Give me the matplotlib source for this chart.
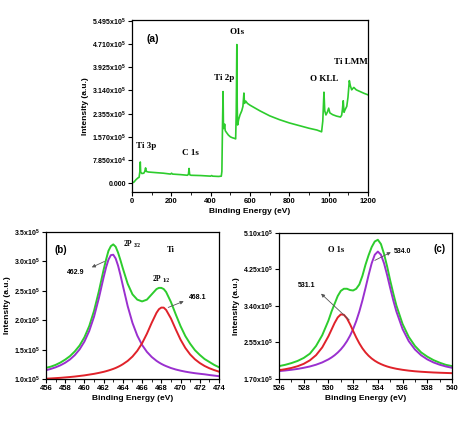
import matplotlib
matplotlib.use("Agg")
import matplotlib.pyplot as plt
from matplotlib.ticker import MultipleLocator

plt.rcParams["font.family"] = ["Liberation Sans", "DejaVu Sans"]
plt.rcParams["font.weight"] = "bold"
plt.rcParams["mathtext.default"] = "regular"

GREEN = "#2dcc2d"
PURPLE = "#9a30cf"
RED = "#e0222a"

# ---- (a) survey spectrum: binding energy (eV), intensity (x1e5)
survey_be = [0, 10, 20, 30, 36, 40, 42, 44, 50, 60, 65, 69, 73, 83, 120, 160, 196,
             201, 206, 250, 282, 287, 290, 293, 300, 350, 400, 405, 410, 440, 454,
             457, 460, 463, 465, 468, 471, 474, 480, 490, 500, 510, 520, 527, 530,
             533, 535, 537, 542, 549, 558, 564, 569, 572, 578, 587, 600, 650, 700,
             750, 800, 850, 900, 940, 964, 970, 976, 980, 986, 993, 1000, 1006, 1020,
             1040, 1060, 1066, 1070, 1074, 1078, 1083, 1092, 1098, 1105, 1110, 1117,
             1122, 1128, 1140, 1160, 1180, 1200]
survey_int = [0.01, 0.04, 0.12, 0.18, 0.20, 0.40, 0.72, 0.38, 0.33, 0.34, 0.40, 0.52,
              0.40, 0.38, 0.36, 0.34, 0.31, 0.34, 0.31, 0.29, 0.27, 0.31, 0.50, 0.29,
              0.27, 0.26, 0.24, 0.26, 0.24, 0.23, 0.24, 0.40, 1.90, 3.10, 1.85, 1.86,
              2.00, 1.78, 1.72, 1.63, 1.57, 1.54, 1.52, 1.50, 2.40, 4.69, 2.60, 1.97,
              2.15, 2.31, 2.45, 2.60, 3.05, 2.70, 2.78, 2.70, 2.64, 2.45, 2.28, 2.15,
              2.04, 1.95, 1.86, 1.80, 1.74, 2.10, 3.08, 2.45, 2.31, 2.40, 2.54, 2.38,
              2.32, 2.27, 2.24, 2.30, 2.50, 2.79, 2.40, 2.48, 2.60, 2.90, 3.47, 3.30,
              3.16, 3.20, 3.24, 3.16, 3.10, 3.04, 2.99]
survey_yticks = [0.0, 0.785, 1.570, 2.355, 3.140, 3.925, 4.710, 5.495]
survey_ylabels = ["0.000", "7.850x10$^4$", "1.570x10$^5$", "2.355x10$^5$", "3.140x10$^5$",
                  "3.925x10$^5$", "4.710x10$^5$", "5.495x10$^5$"]

# ---- (b) Ti 2p fit (x1e5)
ti_be = [456, 456.5, 457, 457.5, 458, 458.5, 459, 459.5, 460, 460.5, 461, 461.5, 462,
         462.25, 462.5, 462.75, 463, 463.25, 463.5, 463.75, 464,
         464.5, 465, 465.5, 466, 466.5, 467, 467.5,
         467.75, 468, 468.25,
         468.5, 469, 469.5, 470, 470.5, 471, 471.5, 472, 472.5, 473, 473.5, 474]
ti_envelope = [1.19, 1.21, 1.24, 1.28, 1.33, 1.39, 1.47, 1.57, 1.71, 1.90, 2.16, 2.49, 2.86,
               3.03, 3.18, 3.26, 3.29, 3.25, 3.15, 3.02, 2.88,
               2.62, 2.44, 2.35, 2.32, 2.35, 2.44, 2.53,
               2.55, 2.55, 2.53,
               2.48, 2.31, 2.10, 1.90, 1.73, 1.60, 1.49, 1.41, 1.34, 1.29, 1.24, 1.20]
ti_2p32 = [1.149, 1.172, 1.199, 1.233, 1.277, 1.333, 1.407, 1.505, 1.637, 1.817, 2.06,
           2.374, 2.732,
           2.898, 3.03, 3.107, 3.114, 3.05, 2.928, 2.767, 2.588,
           2.24, 1.954, 1.738, 1.579, 1.462, 1.375, 1.309,
           1.282, 1.258, 1.237,
           1.219, 1.187, 1.162, 1.142, 1.125, 1.111, 1.099, 1.089, 1.080, 1.068, 1.058, 1.048]
ti_2p12 = [1.005, 1.01, 1.015, 1.02, 1.027, 1.034, 1.042, 1.052, 1.062, 1.075, 1.088,
           1.104, 1.122,
           1.133, 1.145, 1.158, 1.172, 1.188, 1.207, 1.228, 1.252,
           1.308, 1.382, 1.480, 1.608, 1.770, 1.956, 2.126,
           2.187, 2.215, 2.214,
           2.175, 2.030, 1.845, 1.670, 1.528, 1.418, 1.335, 1.272, 1.222, 1.183, 1.152, 1.125]
ti_yticks = [1.0, 1.5, 2.0, 2.5, 3.0, 3.5]
ti_ylabels = ["1.0x10$^5$", "1.5x10$^5$", "2.0x10$^5$", "2.5x10$^5$", "3.0x10$^5$",
              "3.5x10$^5$"]

# ---- (c) O 1s fit (x1e5)
o_be = [526, 526.5, 527, 527.5, 528, 528.5, 529, 529.5, 530,
        530.25, 530.5, 530.75, 531, 531.25, 531.5, 531.75, 532, 532.25, 532.5, 532.75,
        533, 533.25, 533.5, 533.75, 534, 534.25, 534.5, 534.75, 535, 535.25,
        535.5, 536, 536.5, 537, 537.5, 538, 538.5, 539, 539.5, 540]
o_envelope = [2.00, 2.03, 2.07, 2.12, 2.19, 2.29, 2.47, 2.72, 3.06,
              3.27, 3.45, 3.63, 3.75, 3.80, 3.80, 3.77, 3.76, 3.80, 3.90, 4.10,
              4.36, 4.58, 4.77, 4.90, 4.94, 4.84, 4.61, 4.32, 3.99, 3.69,
              3.41, 2.98, 2.68, 2.47, 2.32, 2.22, 2.14, 2.08, 2.03, 2.00]
o_531 = [1.905, 1.928, 1.957, 1.997, 2.053, 2.135, 2.255, 2.436, 2.695,
         2.849, 3.004, 3.132, 3.203, 3.195, 3.110, 2.974, 2.818, 2.666, 2.530, 2.414,
         2.319, 2.241, 2.177, 2.125, 2.082, 2.047, 2.017, 1.992, 1.971, 1.954,
         1.938, 1.914, 1.895, 1.880, 1.869, 1.860, 1.852, 1.846, 1.841, 1.836]
o_534 = [1.884, 1.898, 1.915, 1.935, 1.961, 1.992, 2.033, 2.086, 2.157,
         2.201, 2.253, 2.315, 2.388, 2.476, 2.581, 2.709, 2.863, 3.048, 3.270, 3.528,
         3.817, 4.118, 4.393, 4.592, 4.665, 4.592, 4.393, 4.118, 3.817, 3.528,
         3.270, 2.863, 2.581, 2.388, 2.253, 2.157, 2.086, 2.033, 1.992, 1.961]
o_yticks = [1.70, 2.55, 3.40, 4.25, 5.10]
o_ylabels = ["1.70x10$^5$", "2.55x10$^5$", "3.40x10$^5$", "4.25x10$^5$", "5.10x10$^5$"]

SERIF = ["Liberation Serif", "DejaVu Serif"]


def style(ax, xmajor, xminor, ticks, labels):
    ax.xaxis.set_major_locator(MultipleLocator(xmajor))
    ax.xaxis.set_minor_locator(MultipleLocator(xminor))
    ax.set_yticks(ticks)
    ax.set_yticklabels(labels)
    ax.tick_params(direction="out", length=3, width=0.8, pad=1.5)
    ax.tick_params(axis="x", labelsize=5.5)
    ax.tick_params(axis="y", labelsize=5)
    ax.tick_params(which="minor", direction="out", length=1.8, width=0.6)
    for s in ax.spines.values():
        s.set_linewidth(0.9)
    ax.set_xlabel("Binding Energy (eV)", fontsize=6, fontweight="bold", labelpad=2)
    ax.set_ylabel("Intensity (a.u.)", fontsize=6, fontweight="bold", labelpad=2)


fig = plt.figure(figsize=(4.74, 4.26), dpi=100)

# (a)
ax1 = fig.add_axes([0.2785, 0.549, 0.4979, 0.404])
ax1.plot(survey_be, survey_int, color=GREEN, lw=1.2)
ax1.set_xlim(0, 1200)
ax1.set_ylim(-0.3, 5.52)
style(ax1, 200, 100, survey_yticks, survey_ylabels)
ax1.text(107, 4.89, "(a)", fontsize=7.5, fontweight="bold", ha="center", va="center")
for lbl, x, y in [("O1s", 534, 5.10), ("Ti 2p", 469, 3.57), ("Ti 3p", 70, 1.27),
                  ("C 1s", 297, 1.01), ("O KLL", 977, 3.51), ("Ti LMM", 1113, 4.11)]:
    ax1.text(x, y, lbl, fontsize=6.5, fontweight="bold", family=SERIF,
             ha="center", va="center")

# (b)
ax2 = fig.add_axes([0.097, 0.1103, 0.365, 0.345])
ax2.plot(ti_be, ti_envelope, color=GREEN, lw=1.4)
ax2.plot(ti_be, ti_2p32, color=PURPLE, lw=1.4)
ax2.plot(ti_be, ti_2p12, color=RED, lw=1.4)
ax2.set_xlim(456, 474)
ax2.set_ylim(1.0, 3.5)
style(ax2, 2, 1, ti_yticks, ti_ylabels)
ax2.text(457.5, 3.20, "(b)", fontsize=7, fontweight="bold", ha="center", va="center")
ax2.text(465.0, 3.29, "2P", fontsize=5.5, fontweight="bold", family=SERIF, ha="right", va="center")
ax2.text(465.1, 3.27, "3/2", fontsize=4, fontweight="bold", family=SERIF, ha="left", va="center")
ax2.text(468.0, 2.70, "2P", fontsize=5.5, fontweight="bold", family=SERIF, ha="right", va="center")
ax2.text(468.1, 2.68, "1/2", fontsize=4, fontweight="bold", family=SERIF, ha="left", va="center")
ax2.text(469.0, 3.19, "Ti", fontsize=6, fontweight="bold", family=SERIF, ha="center", va="center")
ax2.text(459.1, 2.815, "462.9", fontsize=5, fontweight="bold", ha="center", va="center")
ax2.text(471.8, 2.39, "468.1", fontsize=5, fontweight="bold", ha="center", va="center")
arrow = dict(arrowstyle="-|>", color="#555555", lw=0.6, mutation_scale=5)
ax2.annotate("", xy=(460.5, 2.88), xytext=(462.35, 3.02), arrowprops=arrow)
ax2.annotate("", xy=(470.6, 2.34), xytext=(468.45, 2.20), arrowprops=arrow)

# (c)
ax3 = fig.add_axes([0.5886, 0.1103, 0.365, 0.343])
ax3.plot(o_be, o_envelope, color=GREEN, lw=1.4)
ax3.plot(o_be, o_534, color=PURPLE, lw=1.4)
ax3.plot(o_be, o_531, color=RED, lw=1.4)
ax3.set_xlim(526, 540)
ax3.set_ylim(1.70, 5.10)
style(ax3, 2, 1, o_yticks, o_ylabels)
ax3.text(539.0, 4.73, "(c)", fontsize=7, fontweight="bold", ha="center", va="center")
ax3.text(530.6, 4.70, "O 1s", fontsize=6, fontweight="bold", family=SERIF, ha="center", va="center")
ax3.text(536.0, 4.67, "534.0", fontsize=5, fontweight="bold", ha="center", va="center")
ax3.text(528.2, 3.88, "531.1", fontsize=5, fontweight="bold", ha="center", va="center")
ax3.annotate("", xy=(535.25, 4.68), xytext=(533.55, 4.43), arrowprops=arrow)
ax3.annotate("", xy=(529.24, 3.73), xytext=(531.85, 3.03), arrowprops=arrow)

fig.savefig("out.png", dpi=100)
